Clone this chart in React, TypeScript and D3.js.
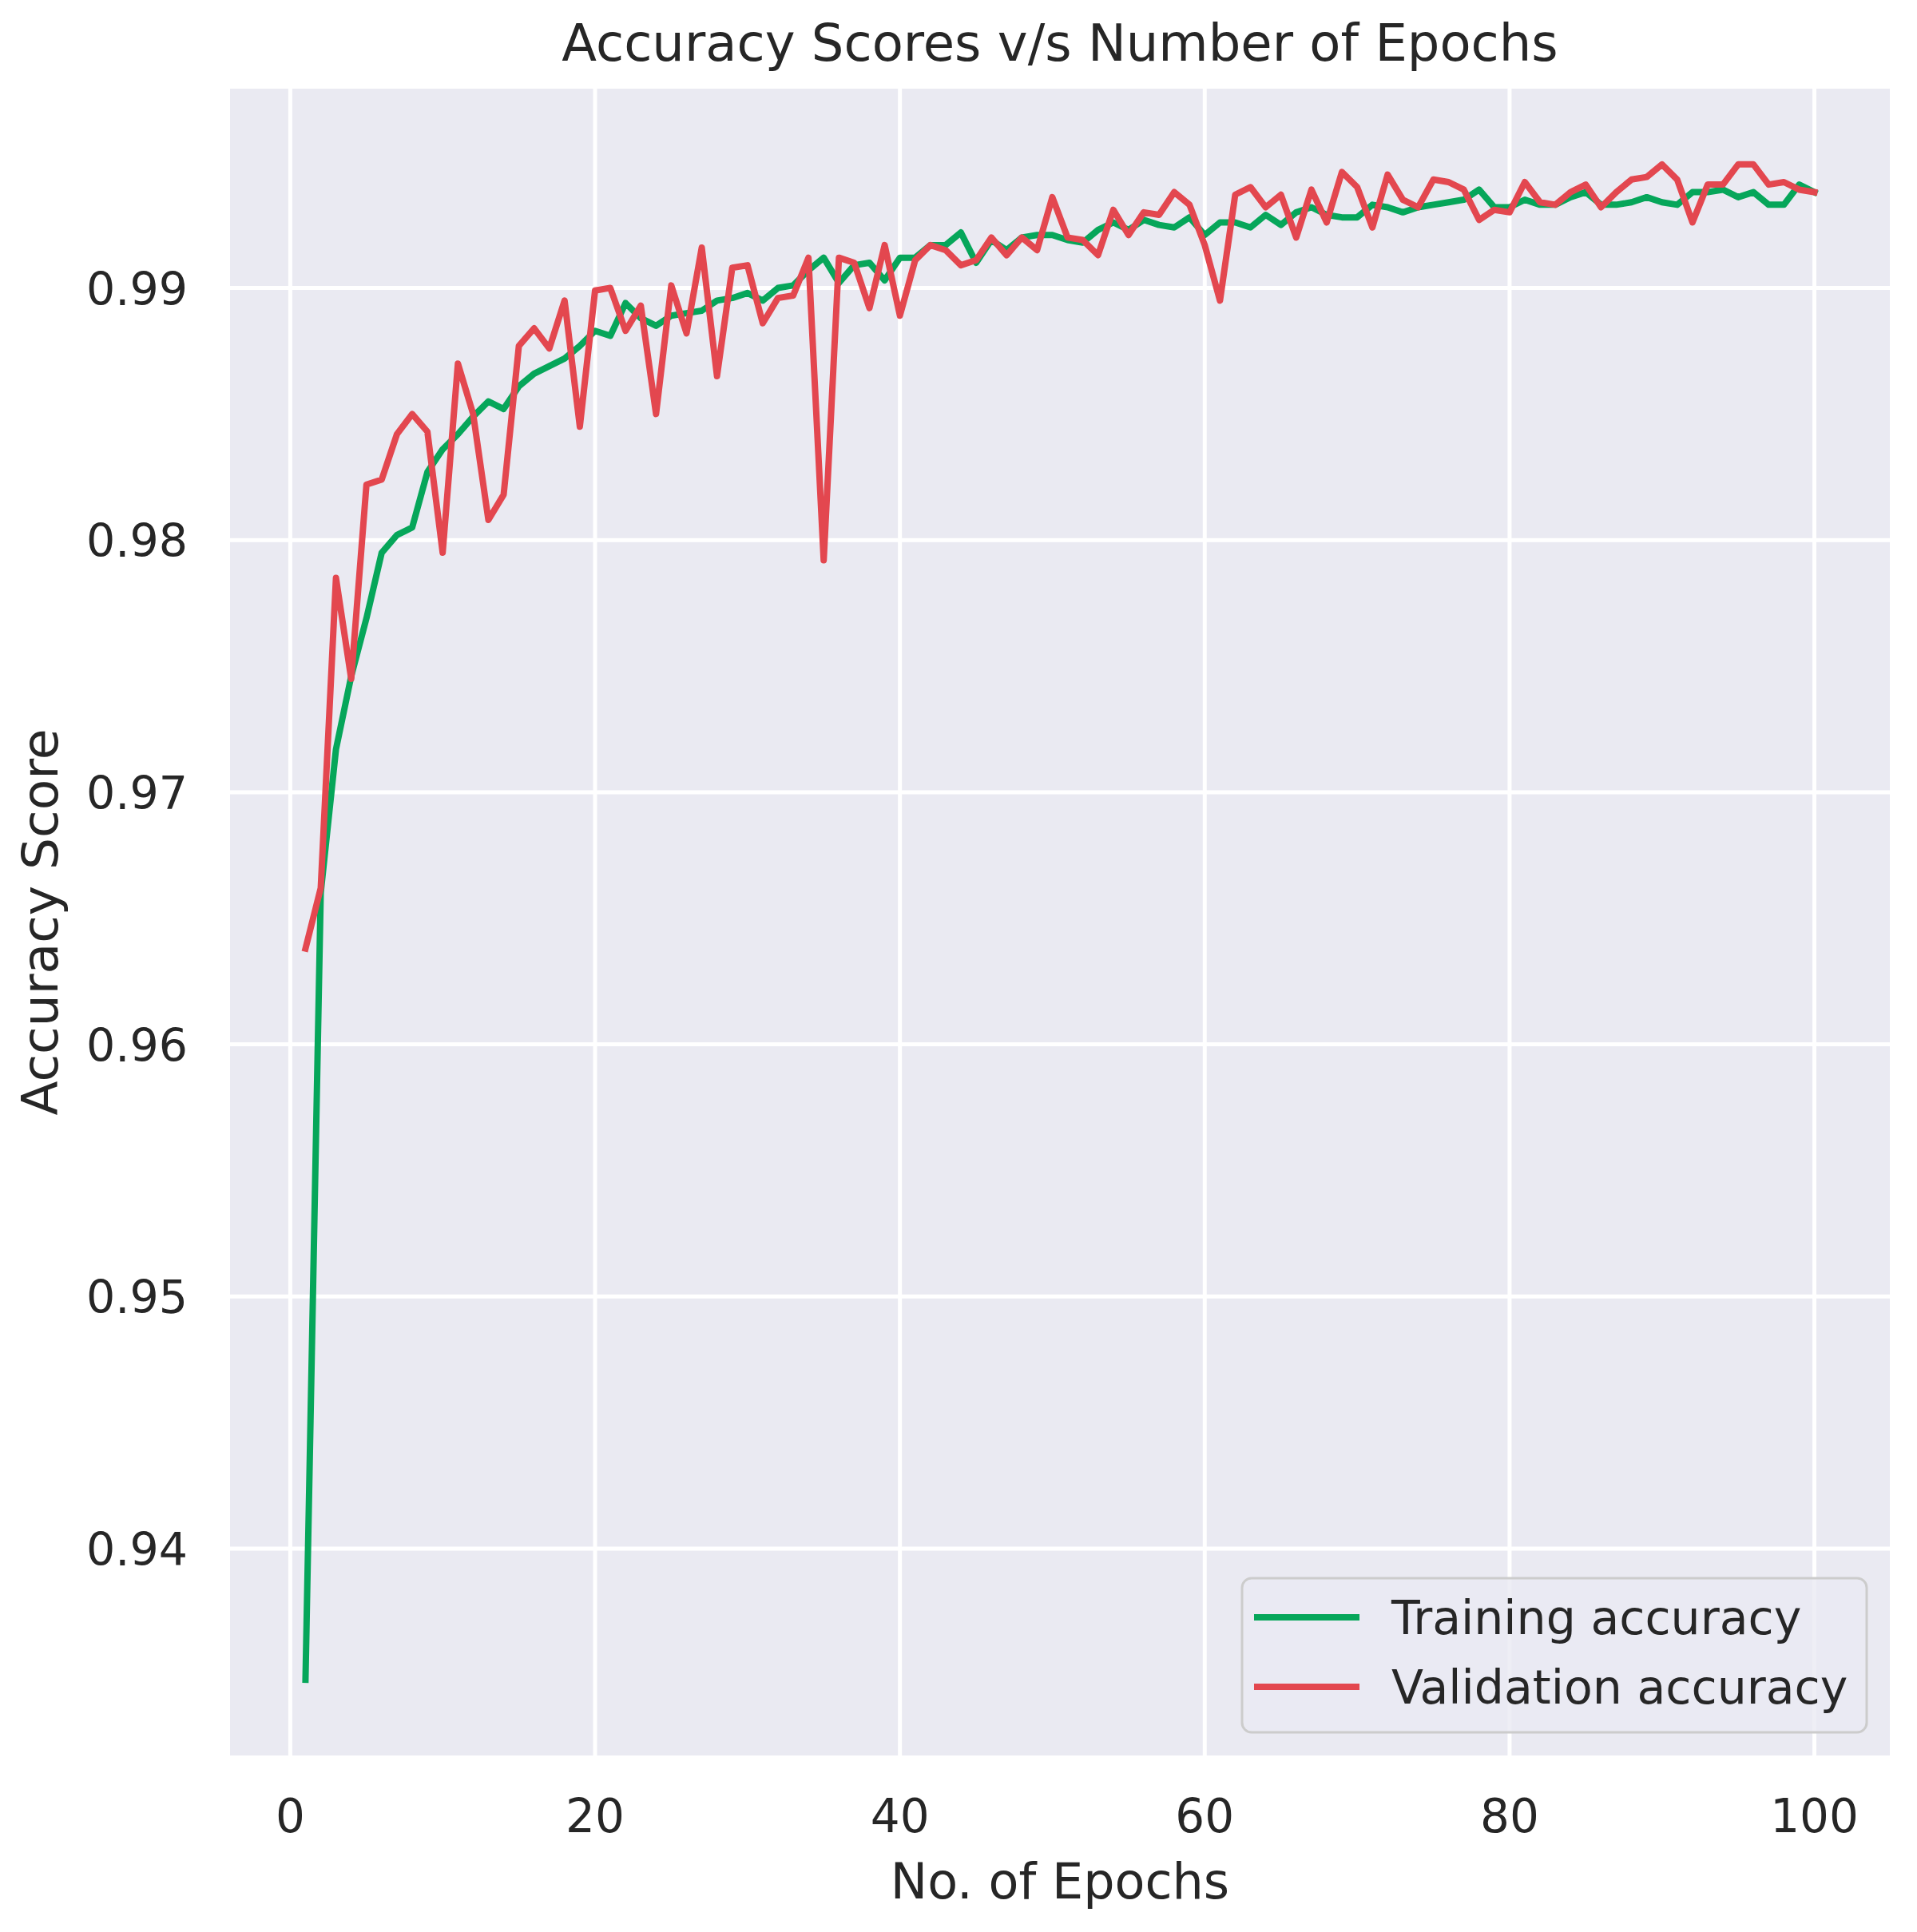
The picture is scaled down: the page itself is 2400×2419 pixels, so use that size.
import React, { useEffect, useRef } from 'react';
import * as d3 from 'd3';

const training = [
  0.9348, 0.9660, 0.9717, 0.9746, 0.9769, 0.9795, 0.9802, 0.9805, 0.9827, 0.9836,
  0.9842, 0.9849, 0.9855, 0.9852, 0.9861, 0.9866, 0.9869, 0.9872, 0.9877, 0.9883,
  0.9881, 0.9894, 0.9888, 0.9885, 0.9889, 0.9890, 0.9891, 0.9895, 0.9896, 0.9898,
  0.9895, 0.9900, 0.9901, 0.9907, 0.9912, 0.9902, 0.9909, 0.9910, 0.9903, 0.9912,
  0.9912, 0.9917, 0.9917, 0.9922, 0.9910, 0.9919, 0.9915, 0.9920, 0.9921, 0.9921,
  0.9919, 0.9918, 0.9923, 0.9926, 0.9923, 0.9927, 0.9925, 0.9924, 0.9928, 0.9921,
  0.9926, 0.9926, 0.9924, 0.9929, 0.9925, 0.9930, 0.9932, 0.9929, 0.9928, 0.9928,
  0.9933, 0.9932, 0.9930, 0.9932, 0.9933, 0.9934, 0.9935, 0.9939, 0.9932, 0.9932,
  0.9935, 0.9933, 0.9933, 0.9936, 0.9938, 0.9933, 0.9933, 0.9934, 0.9936, 0.9934,
  0.9933, 0.9938, 0.9938, 0.9939, 0.9936, 0.9938, 0.9933, 0.9933, 0.9941, 0.9938,
];

const validation = [
  0.9638, 0.9662, 0.9785, 0.9745, 0.9822, 0.9824, 0.9842, 0.9850, 0.9843, 0.9795,
  0.9870, 0.9850, 0.9808, 0.9818, 0.9877, 0.9884, 0.9876, 0.9895, 0.9845, 0.9899,
  0.9900, 0.9883, 0.9893, 0.9850, 0.9901, 0.9882, 0.9916, 0.9865, 0.9908, 0.9909,
  0.9886, 0.9896, 0.9897, 0.9912, 0.9792, 0.9912, 0.9910, 0.9892, 0.9917, 0.9889,
  0.9911, 0.9917, 0.9915, 0.9909, 0.9911, 0.9920, 0.9913, 0.9920, 0.9915, 0.9936,
  0.9920, 0.9919, 0.9913, 0.9931, 0.9921, 0.9930, 0.9929, 0.9938, 0.9933, 0.9917,
  0.9895, 0.9937, 0.9940, 0.9932, 0.9937, 0.9920, 0.9939, 0.9926, 0.9946, 0.9940,
  0.9924, 0.9945, 0.9935, 0.9932, 0.9943, 0.9942, 0.9939, 0.9927, 0.9931, 0.9930,
  0.9942, 0.9934, 0.9933, 0.9938, 0.9941, 0.9932, 0.9938, 0.9943, 0.9944, 0.9949,
  0.9943, 0.9926, 0.9941, 0.9941, 0.9949, 0.9949, 0.9941, 0.9942, 0.9939, 0.9938,
];

const epochs = d3.range(1, 101);
const xTicks = [0, 20, 40, 60, 80, 100];
const yTicks = [0.94, 0.95, 0.96, 0.97, 0.98, 0.99];
const seriesNames = ['Training accuracy', 'Validation accuracy'];
const seriesColors = ['#06a65a', '#e3474f'];

const width = 2400;
const height = 2419;
const plot = { left: 288, right: 2366, top: 111, bottom: 2198 };
const font = '"DejaVu Sans", sans-serif';
const ink = '#262626';

// matplotlib style 5% margins
const pad = (lo: number, hi: number) => [lo - (hi - lo) * 0.05, hi + (hi - lo) * 0.05];

const allValues = training.concat(validation);
const x = d3.scaleLinear()
  .domain(pad(1, 100))
  .range([plot.left, plot.right]);
const y = d3.scaleLinear()
  .domain(pad(d3.min(allValues) as number, d3.max(allValues) as number))
  .range([plot.bottom, plot.top]);

function App() {
  const ref = useRef<SVGSVGElement>(null);

  useEffect(() => {
    const svg = d3.select(ref.current);
    svg.selectAll('*').remove();

    svg.append('rect')
      .attr('width', width).attr('height', height).attr('fill', '#ffffff');

    svg.append('rect')
      .attr('x', plot.left).attr('y', plot.top)
      .attr('width', plot.right - plot.left).attr('height', plot.bottom - plot.top)
      .attr('fill', '#eaeaf2');

    const grid = svg.append('g').attr('stroke', '#ffffff').attr('stroke-width', 5);
    grid.selectAll('.gx').data(xTicks).join('line')
      .attr('x1', d => x(d)).attr('x2', d => x(d))
      .attr('y1', plot.top).attr('y2', plot.bottom);
    grid.selectAll('.gy').data(yTicks).join('line')
      .attr('class', 'gy')
      .attr('x1', plot.left).attr('x2', plot.right)
      .attr('y1', d => y(d)).attr('y2', d => y(d));

    const line = d3.line<number>()
      .x((_, i) => x(epochs[i]))
      .y(d => y(d));

    [training, validation].forEach((values, i) => {
      svg.append('path')
        .datum(values)
        .attr('fill', 'none')
        .attr('stroke', seriesColors[i])
        .attr('stroke-width', 8)
        .attr('stroke-linejoin', 'round')
        .attr('stroke-linecap', 'square')
        .attr('d', line);
    });

    const text = svg.append('g').attr('font-family', font).attr('fill', ink);

    text.selectAll('.xt').data(xTicks).join('text')
      .attr('x', d => x(d)).attr('y', 2294)
      .attr('text-anchor', 'middle')
      .attr('font-size', 58)
      .text(d => d);

    text.selectAll('.yt').data(yTicks).join('text')
      .attr('class', 'yt')
      .attr('x', 235).attr('y', d => y(d) + 21)
      .attr('text-anchor', 'end')
      .attr('font-size', 57)
      .text(d => d.toFixed(2));

    const cx = (plot.left + plot.right) / 2;
    text.append('text')
      .attr('x', cx).attr('y', 76)
      .attr('text-anchor', 'middle').attr('font-size', 64)
      .text('Accuracy Scores v/s Number of Epochs');
    text.append('text')
      .attr('x', cx).attr('y', 2377)
      .attr('text-anchor', 'middle').attr('font-size', 62)
      .text('No. of Epochs');
    text.append('text')
      .attr('transform', `translate(72,${(plot.top + plot.bottom) / 2}) rotate(-90)`)
      .attr('text-anchor', 'middle').attr('font-size', 63)
      .text('Accuracy Score');

    // legend
    const legend = svg.append('g').attr('transform', 'translate(1555,1976)');
    legend.append('rect')
      .attr('width', 782).attr('height', 193)
      .attr('rx', 12)
      .attr('fill', '#eaeaf2').attr('fill-opacity', 0.8)
      .attr('stroke', '#cccccc').attr('stroke-width', 3);
    seriesNames.forEach((name, i) => {
      const row = 49 + i * 87;
      legend.append('line')
        .attr('x1', 19).attr('x2', 143)
        .attr('y1', row).attr('y2', row)
        .attr('stroke', seriesColors[i]).attr('stroke-width', 8)
        .attr('stroke-linecap', 'square');
      legend.append('text')
        .attr('x', 187).attr('y', row + 21)
        .attr('font-family', font).attr('font-size', 58.5).attr('fill', ink)
        .text(name);
    });
  }, []);

  return (
    <svg
      ref={ref}
      width={width}
      height={height}
      viewBox={`0 0 ${width} ${height}`}
      style={{ position: 'absolute', left: 0, top: 0 }}
    />
  );
}

export default App;
